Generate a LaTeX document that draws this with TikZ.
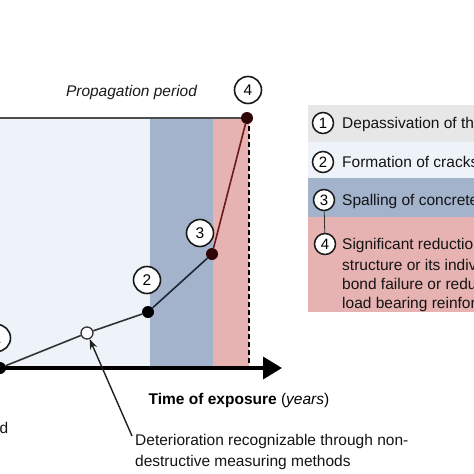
\documentclass[tikz,border=0pt]{standalone}
\usepackage{fontspec}
\setmainfont{Liberation Sans}
\usetikzlibrary{arrows.meta}
\definecolor{lb}{HTML}{EEF3FA}
\definecolor{db}{HTML}{A3B3CC}
\definecolor{pk}{HTML}{E7B2B2}
\definecolor{gr}{HTML}{E7E7E7}
\definecolor{dred}{HTML}{2E0606}
\definecolor{lred}{HTML}{6B1A1A}
\definecolor{lnav}{HTML}{1F2535}
\begin{document}
\begin{tikzpicture}[x=1pt,y=-1pt,
  font=\fontsize{15.5}{19}\selectfont,
  lbl/.style={circle,draw=black!90,line width=1.6pt,fill=white,minimum size=27pt,inner sep=0pt,font=\fontsize{15.5}{15.5}\selectfont},
  leglbl/.style={lbl,minimum size=21pt,line width=1.5pt,font=\fontsize{15}{15}\selectfont},
  dot/.style={circle,fill=black,minimum size=12pt,inner sep=0pt},
  txt/.style={anchor=base west,inner sep=0pt,text=black!92},
  curve/.style={line width=1.6pt}]
\useasboundingbox (0,0) rectangle (474,474);
% chart bands
\fill[lb] (0,118) rectangle (150,368);
\fill[db] (150,118) rectangle (213,368);
\fill[pk] (213,118) rectangle (249,368);
\draw[black!70,line width=1.6pt] (0,118) -- (247,118);
\draw[dashed,line width=1.3pt,dash pattern=on 5pt off 3pt] (249,118) -- (249,366);
% axis
\coordinate (ax0) at (0,368);
\coordinate (ax1) at (282,368);
\draw[line width=3.6pt,-{Triangle[length=19pt,width=22pt]}] (ax0) -- (ax1);
% points
\node[dot] (p1) at (0,368) {};
\node[dot,fill=white,draw=black!80,line width=1.3pt] (pc) at (87,333) {};
\node[dot] (p2) at (148,312) {};
\node[dot,fill=dred] (p3) at (212,254) {};
\node[dot,fill=dred] (p4) at (247,118) {};
\draw[curve,black!80] (p1) -- (pc);
\draw[curve,black!80] (pc) -- (p2);
\draw[curve,lnav] (p2) -- (p3);
\draw[curve,lred] (p3) -- (p4);
% chart labels
\node[lbl] (c1) at (-3,338) {1};
\node[lbl] (c2) at (147,280) {2};
\node[lbl] (c3) at (200,233) {3};
\node[lbl] (c4) at (248,90) {4};
\node[anchor=base,inner sep=0pt,text=black!90,font=\fontsize{15.5}{19}\selectfont\itshape] (prop) at (131.5,96.5) {Propagation period};
% axis label
\node[anchor=base,inner sep=0pt,text=black] (time) at (239,404) {\textbf{Time of exposure} (\textit{years})};
\node[anchor=base east,inner sep=0pt,text=black!92] (init) at (8.5,433.5) {d};
% deterioration note
\node[txt] (det1) at (135,445.5) {Deterioration recognizable through non-};
\node[txt] (det2) at (135,466.5) {destructive measuring methods};
\coordinate (dt) at (132,436);
\draw[line width=1.4pt,black!88,-{Stealth[length=10pt,width=7.5pt]}] (dt) -- (pc);
% legend
\fill[gr] (308,105) rectangle (474,142);
\fill[lb] (308,142) rectangle (474,178);
\fill[db] (308,178) rectangle (474,217);
\fill[pk] (308,217) rectangle (474,312);
\node[leglbl] (l1) at (323,123) {1};
\node[leglbl] (l2) at (323,162) {2};
\node[leglbl] (l3) at (324,200) {3};
\node[leglbl] (l4) at (325,244) {4};
\draw[black!80,line width=0.8pt] (l3) -- (l4);
\node[txt] (t1) at (342,128.5) {Depassivation of th};
\node[txt] (t2) at (342,167.5) {Formation of cracks};
\node[txt] (t3) at (342,205.5) {Spalling of concrete};
\node[txt] (t4a) at (342,249.5) {Significant reductio};
\node[txt] (t4b) at (342,270) {structure or its indiv};
\node[txt] (t4c) at (342,289) {bond failure or redu};
\node[txt] (t4d) at (342,308) {load bearing reinfor};
\end{tikzpicture}
\end{document}
